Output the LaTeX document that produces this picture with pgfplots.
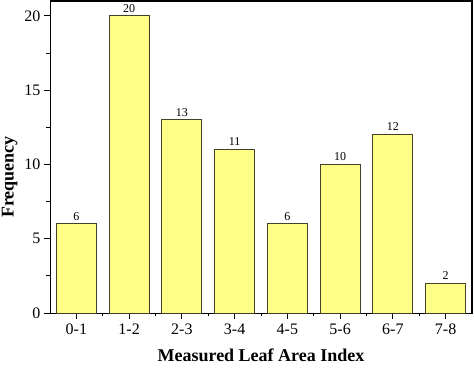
\documentclass[border=0pt]{standalone}
\usepackage{pgfplots}
\pgfplotsset{compat=1.18}
\usepackage{fontspec}
\setmainfont{Liberation Serif}
\definecolor{barfill}{HTML}{FFFF88}
\definecolor{baredge}{HTML}{45402A}
\begin{document}
\begin{tikzpicture}
\begin{axis}[
  scale only axis,
  width=422pt, height=312pt,
  xmin=-0.5, xmax=7.5, ymin=0, ymax=21,
  ybar, bar width=40pt,
  xtick={0,...,7},
  xticklabels={0-1,1-2,2-3,3-4,4-5,5-6,6-7,7-8},
  minor xtick={0.5,1.5,...,6.5},
  ytick={0,5,10,15,20},
  minor ytick={2.5,7.5,12.5,17.5},
  tick pos=left,
  tick align=outside,
  major tick length=6pt,
  minor tick length=3.5pt,
  every tick/.style={black, line width=0.8pt},
  axis line style={line width=0.8pt},
  tick label style={font=\fontsize{16}{16}\selectfont},
  xticklabel style={yshift=-1pt},
  /pgf/number format/assume math mode=true,
  xlabel={\textbf{Measured Leaf Area Index}},
  ylabel={\textbf{Frequency}},
  label style={font=\fontsize{18}{18}\selectfont},
  xlabel style={yshift=-8pt},
  ylabel style={at={(ticklabel cs:0.436)}, yshift=0pt},
  nodes near coords,
  nodes near coords style={font=\fontsize{12}{12}\selectfont, black},
  clip=false,
]
\addplot[fill=barfill, draw=baredge, line width=0.8pt, bar shift=0pt] coordinates {
(0,6) (1,20) (2,13) (3,11) (4,6) (5,10) (6,12) (7,2)
};
\draw[line width=2pt] (rel axis cs:0,1) -- (rel axis cs:1,1) -- (rel axis cs:1,0);
\end{axis}
\pgfresetboundingbox
\path ([shift={(-50pt,-56pt)}]current axis.south west) rectangle ([shift={(2pt,1pt)}]current axis.north east);
\end{tikzpicture}
\end{document}
